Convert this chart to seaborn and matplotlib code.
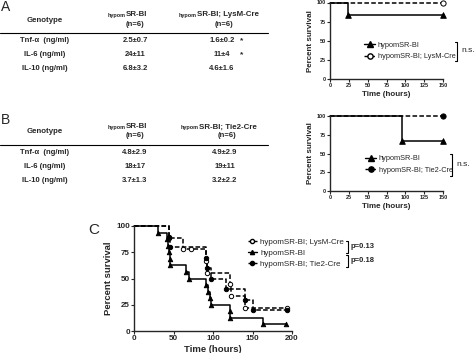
import matplotlib
matplotlib.use("Agg")
import matplotlib.pyplot as plt
from matplotlib.lines import Line2D
import seaborn as sns

# ---- table data ----
row_labels = ["Tnf-\u03b1  (ng/ml)", "IL-6 (ng/ml)", "IL-10 (ng/ml)"]
a_wt_vals = ["2.5\u00b10.7", "24\u00b111", "6.8\u00b13.2"]
a_lys_vals = ["1.6\u00b10.2", "11\u00b14", "4.6\u00b11.6"]
a_lys_star = ["*", "*", ""]
b_wt_vals = ["4.8\u00b12.9", "18\u00b117", "3.7\u00b11.3"]
b_tie_vals = ["4.9\u00b12.9", "19\u00b111", "3.2\u00b12.2"]

# ---- survival data (time in hours, percent survival) ----
a_wt_t = [0, 24, 150]
a_wt_s = [100, 83.3, 83.3]
a_lys_t = [0, 150]
a_lys_s = [100, 100]

b_wt_t = [0, 96, 150]
b_wt_s = [100, 66.7, 66.7]
b_tie_t = [0, 150]
b_tie_s = [100, 100]

c_wt_t = [0, 30, 42, 43, 44, 45, 46, 66, 70, 91, 94, 96, 98, 121, 122, 163, 193]
c_wt_s = [100, 93.75, 87.5, 81.25, 75, 68.75, 62.5, 56.25, 50, 43.75, 37.5,
          31.25, 25, 18.75, 12.5, 6.25, 6.25]
c_lys_t = [0, 44, 62, 72, 91, 93, 122, 123, 140, 194]
c_lys_s = [100, 88.9, 77.8, 77.8, 66.7, 55.6, 44.4, 33.3, 22.2, 22.2]
c_tie_t = [0, 44, 46, 91, 92, 97, 116, 140, 150, 194]
c_tie_s = [100, 90, 80, 70, 60, 50, 40, 30, 20, 20]

W, H = 474, 353

sns.set_style("ticks")
plt.rcParams['font.family'] = ['Liberation Sans', 'DejaVu Sans']

fig = plt.figure(figsize=(W / 100, H / 100), dpi=100)


def fx(x):
    return x / W


def fy(y):
    return 1 - y / H


def ftext(x, y, s, **kw):
    kw.setdefault('va', 'center')
    kw.setdefault('ha', 'center')
    fig.text(fx(x), fy(y), s, **kw)


def fline(xs, ys, **kw):
    fig.add_artist(Line2D([fx(v) for v in xs], [fy(v) for v in ys],
                          transform=fig.transFigure, color='black', lw=0.8, **kw))


def draw_table(top, col3_rest, col3_split, col3_center, vals2, vals3, stars=None):
    # header
    ftext(45, top + 20, "Genotype", fontsize=5.7, fontweight='bold')
    ftext(126, top + 15, "hypom", fontsize=4, fontweight='bold', ha='right')
    ftext(126, top + 15, "SR-BI", fontsize=5.7, fontweight='bold', ha='left')
    ftext(135, top + 24, "(n=6)", fontsize=5.5, fontweight='bold')
    ftext(col3_split, top + 15, "hypom", fontsize=4, fontweight='bold', ha='right')
    ftext(col3_split, top + 15, col3_rest, fontsize=5.7, fontweight='bold', ha='left')
    ftext(col3_center, top + 24, "(n=6)", fontsize=5.5, fontweight='bold')
    fline([0, 268], [top + 33, top + 33], )
    row_y = [top + 40, top + 54, top + 69]
    for i, y in enumerate(row_y):
        ftext(45, y, row_labels[i], fontsize=5.5, fontweight='bold')
        ftext(135, y, vals2[i], fontsize=5.5, fontweight='bold')
        ftext(col3_center - 2, y, vals3[i], fontsize=5.5, fontweight='bold')
        if stars and stars[i]:
            ftext(242, y + 0.5, stars[i], fontsize=6, fontweight='bold')


def style_ax(ax, xmax, xstep, tick_fs, lab_fs):
    ax.set_xlim(0, xmax)
    ax.set_ylim(0, 100)
    ax.set_xticks(range(0, xmax + 1, xstep))
    ax.set_yticks([0, 25, 50, 75, 100])
    sns.despine(ax=ax)
    for sp in ['left', 'bottom']:
        ax.spines[sp].set_linewidth(1.0)
    ax.tick_params(length=2, width=0.8, pad=1, labelsize=tick_fs)
    for lab in ax.get_xticklabels() + ax.get_yticklabels():
        lab.set_fontweight('bold')
    ax.set_xlabel("Time (hours)", fontsize=lab_fs, fontweight='bold', labelpad=2)
    ax.set_ylabel("Percent survival", fontsize=lab_fs, fontweight='bold', labelpad=2)


def survival(ax, t, s, ls, marker, face, ms):
    sns.lineplot(x=t, y=s, ax=ax, drawstyle='steps-post', estimator=None, sort=False,
                 color='black', linestyle=ls, lw=1.1, clip_on=False)
    sns.scatterplot(x=t[1:], y=s[1:], ax=ax, marker=marker, s=ms, color=face,
                    edgecolor='black', linewidth=0.7, clip_on=False, zorder=4)


def handle(ls, marker, face, ms):
    return Line2D([], [], color='black', ls=ls, lw=1.0, marker=marker,
                  markerfacecolor=face, markeredgecolor='black', markersize=ms)


def bracket(x, y0, y1):
    fline([x - 2, x, x, x - 2], [y0, y0, y1, y1])


# ---- panel A ----
ftext(1, 7, "A", fontsize=10, ha='left')
draw_table(0, "SR-BI; LysM-Cre", 197, 224, a_wt_vals, a_lys_vals, a_lys_star)
axA = fig.add_axes([fx(330), fy(79), 113 / W, 76.5 / H])
survival(axA, a_wt_t, a_wt_s, '-', '^', 'black', 16)
survival(axA, a_lys_t, a_lys_s, (0, (3, 1.5)), 'o', 'white', 14)
style_ax(axA, 150, 25, 4, 5.8)
axA.legend([handle('-', '^', 'black', 4), handle((0, (3, 1.5)), 'o', 'white', 3.8)],
           ["hypomSR-BI", "hypomSR-BI; LysM-Cre"], loc='center left',
           bbox_to_anchor=(fx(364), fy(51)), bbox_transform=fig.transFigure,
           frameon=False, fontsize=5.3, handlelength=1.5, handletextpad=0.4,
           labelspacing=0.6, borderpad=0, borderaxespad=0)
bracket(457, 42, 61)
ftext(461, 51, "n.s.", fontsize=6, ha='left')

# ---- panel B ----
ftext(1, 120, "B", fontsize=10, ha='left')
draw_table(112, "SR-BI; Tie2-Cre", 199, 227, b_wt_vals, b_tie_vals)
axB = fig.add_axes([fx(330), fy(191), 113 / W, 75 / H])
survival(axB, b_wt_t, b_wt_s, '-', '^', 'black', 16)
survival(axB, b_tie_t, b_tie_s, (0, (3, 1.5)), 'o', 'black', 14)
style_ax(axB, 150, 25, 4, 5.8)
axB.legend([handle('-', '^', 'black', 4), handle((0, (3, 1.5)), 'o', 'black', 3.8)],
           ["hypomSR-BI", "hypomSR-BI; Tie2-Cre"], loc='center left',
           bbox_to_anchor=(fx(365), fy(164.5)), bbox_transform=fig.transFigure,
           frameon=False, fontsize=5.3, handlelength=1.5, handletextpad=0.4,
           labelspacing=0.6, borderpad=0, borderaxespad=0)
bracket(452, 154, 176)
ftext(456, 164, "n.s.", fontsize=6, ha='left')

# ---- panel C ----
ftext(88, 230, "C", fontsize=11, ha='left')
axC = fig.add_axes([fx(134), fy(331), 158 / W, 105 / H])
survival(axC, c_lys_t, c_lys_s, (0, (3, 1.5)), 'o', 'white', 10)
survival(axC, c_tie_t, c_tie_s, (0, (3, 1.5)), 'o', 'black', 10)
survival(axC, c_wt_t, c_wt_s, '-', '^', 'black', 10)
style_ax(axC, 200, 50, 5.8, 6.8)
axC.legend([handle((0, (3, 1.5)), 'o', 'white', 3),
            handle('-', '^', 'black', 3),
            handle((0, (3, 1.5)), 'o', 'black', 3)],
           ["hypomSR-BI; LysM-Cre", "hypomSR-BI", "hypomSR-BI; Tie2-Cre"],
           loc='center left', bbox_to_anchor=(fx(248), fy(253)),
           bbox_transform=fig.transFigure, frameon=False, fontsize=5.8,
           handlelength=1.1, handletextpad=0.4, labelspacing=0.45,
           borderpad=0, borderaxespad=0)
bracket(348, 240.5, 252.5)
bracket(348, 255, 266.5)
ftext(351, 246.5, "p=0.13", fontsize=5.5, fontweight='bold', ha='left')
ftext(351, 260, "p=0.18", fontsize=5.5, fontweight='bold', ha='left')

fig.savefig("out.png", dpi=100)
